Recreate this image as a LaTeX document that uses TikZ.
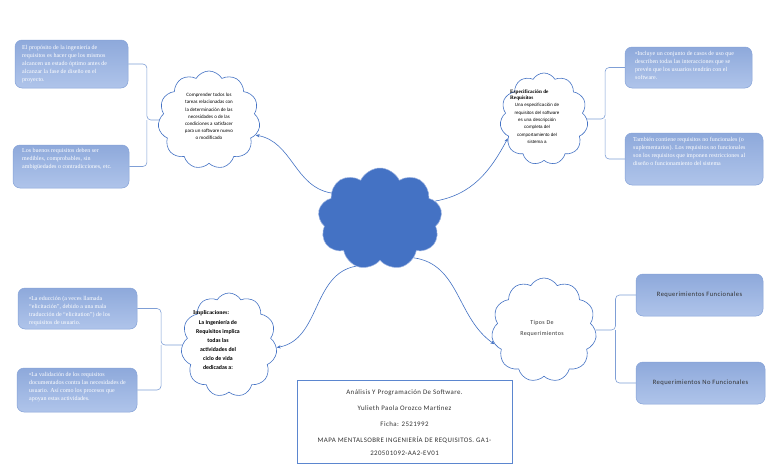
\documentclass[tikz,border=0pt]{standalone}
\usepackage{fontspec}
\setmainfont{Liberation Serif}
\newfontfamily\carl{Carlito}
\newfontfamily\carlsp[LetterSpace=6]{Carlito}
\newfontfamily\arl{Liberation Sans}
\usetikzlibrary{shapes.symbols,arrows.meta,calc}
\definecolor{cblue}{HTML}{4472C4}
\definecolor{cedge}{HTML}{9DB4E2}
\definecolor{boxtop}{HTML}{8EA9DB}
\definecolor{boxbot}{HTML}{AFC4EA}
\definecolor{boxedge}{HTML}{86A3D8}
\definecolor{brkcol}{HTML}{7F9FD6}
\definecolor{tblue}{HTML}{5B86CF}
\definecolor{dtext}{HTML}{333333}
\tikzset{
  cloudo/.style={cloud, cloud puffs=11, cloud puff arc=120, cloud ignores aspect, draw=cblue, line width=0.6pt, fill=white, inner sep=0pt},
  rbox/.style={rounded corners=7pt, draw=boxedge, line width=0.5pt, top color=boxtop, bottom color=boxbot, inner sep=0pt},
  btext/.style={anchor=north west, align=left, text=white, font=\fontsize{6}{8}\selectfont, inner sep=0pt},
  conn/.style={draw=cblue, line width=0.6pt, -{Stealth[length=4pt,width=3.2pt]}},
  brk/.style={draw=brkcol, line width=0.6pt, rounded corners=4pt},
  rtext/.style={font=\carlsp\fontsize{6.6}{7}\selectfont, text=dtext},
}
\begin{document}
\begin{tikzpicture}[x=1pt,y=1pt]
\fill[white] (0,0) rectangle (768,-466);
\useasboundingbox (0,0) rectangle (768,-466);

% central cloud
\node[cloud, cloud puffs=9, cloud puff arc=130, cloud ignores aspect, fill=cblue, draw=cedge, line width=0.5pt, minimum width=124pt, minimum height=102pt, inner sep=0pt] (c) at (380,-219) {};

% clouds
\node[cloudo, minimum width=102pt, minimum height=98pt] (tl) at (209,-120) {};
\node[cloudo, minimum width=88pt, minimum height=92pt] (tr) at (544,-119) {};
\node[cloudo, minimum width=96pt, minimum height=104pt] (bl) at (229,-345) {};
\node[cloudo, minimum width=105pt, minimum height=104pt] (br) at (544,-330) {};

% cloud texts
\node[font=\carl\fontsize{5}{7.2}\selectfont, align=center, inner sep=0pt] (tlt) at (209,-116.5) {Comprender todos los\\tareas relacionadas con\\la determinación de las\\necesidades o de las\\condiciones a satisfacer\\para un software nuevo\\o modificado};
\node[anchor=north west, align=left, font=\bfseries\fontsize{5.2}{6}\selectfont, inner sep=0pt] (trh) at (510,-89.5) {Especificación de\\Requisitos};
\node[font=\arl\fontsize{4.5}{7.4}\selectfont, align=center, inner sep=0pt] (trb) at (537,-123.5) {Una especificación de\\requisitos del software\\es una descripción\\completa del\\comportamiento del\\sistema a};
\node[anchor=north west, font=\bfseries\fontsize{5.8}{7}\selectfont, inner sep=0pt] (blh) at (193,-310) {Implicaciones:};
\node[font=\carl\bfseries\fontsize{5.8}{9}\selectfont, align=center, inner sep=0pt] (blb) at (218,-344.5) {La Ingeniería de\\Requisitos implica\\todas las\\actividades del\\ciclo de vida\\dedicadas a:};
\node[font=\carlsp\fontsize{6}{11}\selectfont, align=center, inner sep=0pt, text=dtext] (brt) at (542,-328.5) {Tipos De\\Requerimientos};

% boxes
\node[rbox, minimum width=113pt, minimum height=48pt] (b1) at (71.5,-64) {};
\node[rbox, minimum width=116pt, minimum height=43pt] (b2) at (71,-166.5) {};
\node[rbox, minimum width=127pt, minimum height=41pt] (b3) at (688.5,-67.5) {};
\node[rbox, minimum width=138pt, minimum height=52pt] (b4) at (694,-159) {};
\node[rbox, minimum width=119pt, minimum height=41pt] (b5) at (77.5,-308.5) {};
\node[rbox, minimum width=120pt, minimum height=44pt] (b6) at (77,-390) {};
\node[rbox, minimum width=127pt, minimum height=42pt] (bf) at (699.5,-295) {};
\node[rbox, minimum width=129pt, minimum height=42pt] (bnf) at (700.5,-383) {};

% box texts
\node[btext] (t1) at (22,-45) {El propósito de la ingeniería de\\requisitos es hacer que los mismos\\alcancen un estado óptimo antes de\\alcanzar la fase de diseño en el\\proyecto.};
\node[btext] (t2) at (22,-148) {Los buenos requisitos deben ser\\medibles, comprobables, sin\\ambigüedades o contradicciones, etc.};
\node[btext] (t3) at (635,-51) {•Incluye un conjunto de casos de uso que\\describen todas las interacciones que se\\prevén que los usuarios tendrán con el\\software.};
\node[btext] (t4) at (633,-137) {También contiene requisitos no funcionales (o\\suplementarios). Los requisitos no funcionales\\son los requisitos que imponen restricciones al\\diseño o funcionamiento del sistema};
\node[btext] (t5) at (29,-296) {•La educción (a veces llamada\\“elicitación”, debido a una mala\\traducción de “elicitation”) de los\\requisitos de usuario.};
\node[btext] (t6) at (29,-372) {•La validación de los requisitos\\documentados contra las necesidades de\\usuario. Así como los procesos que\\apoyan estas actividades.};
\node[rtext] (tf) at (bf) {Requerimientos Funcionales};
\node[rtext] (tnf) at (bnf) {Requerimientos No Funcionales};

% title box
\node[draw=tblue, line width=0.8pt, minimum width=215pt, minimum height=83pt, inner sep=0pt] (ti) at (404.5,-421.5) {};
\node[font=\carlsp\fontsize{6.9}{7}\selectfont, align=center, inner sep=0pt, text=dtext] (tit) at (404.5,-423) {Análisis Y Programación De Software.\\[9pt]Yulieth Paola Orozco Martinez\\[9pt]Ficha: 2521992\\[9pt]MAPA MENTALSOBRE INGENIERÍA DE REQUISITOS. GA1-\\[6pt]220501092-AA2-EV01};

% connectors
\draw[conn] (c.152) to[out=170, in=-10] (tl.-18);
\draw[conn] (c.18) to[out=10, in=-118] (tr.-152);
\draw[conn] (c.-117) to[out=190, in=10] (bl.-3);
\draw[conn] (c.-49) to[out=-8, in=145] (br.-164);

% brackets
\draw[brk] (b1.east) -| ($(tl.west)+(-12,0)$) -- (tl.west);
\draw[brk] (b2.east) -| ($(tl.west)+(-12,0)$);
\draw[brk] (b3.west) -| ($(tr.east)+(18,0)$) -- (tr.east);
\draw[brk] (b4.west) -| ($(tr.east)+(18,0)$);
\draw[brk] (b5.east) -| ($(bl.west)+(-21,0)$) -- (bl.west);
\draw[brk] (b6.east) -| ($(bl.west)+(-21,0)$);
\draw[brk] (bf.west) -| ($(br.east)+(20,0)$) -- (br.east);
\draw[brk] (bnf.west) -| ($(br.east)+(20,0)$);
\end{tikzpicture}
\end{document}
